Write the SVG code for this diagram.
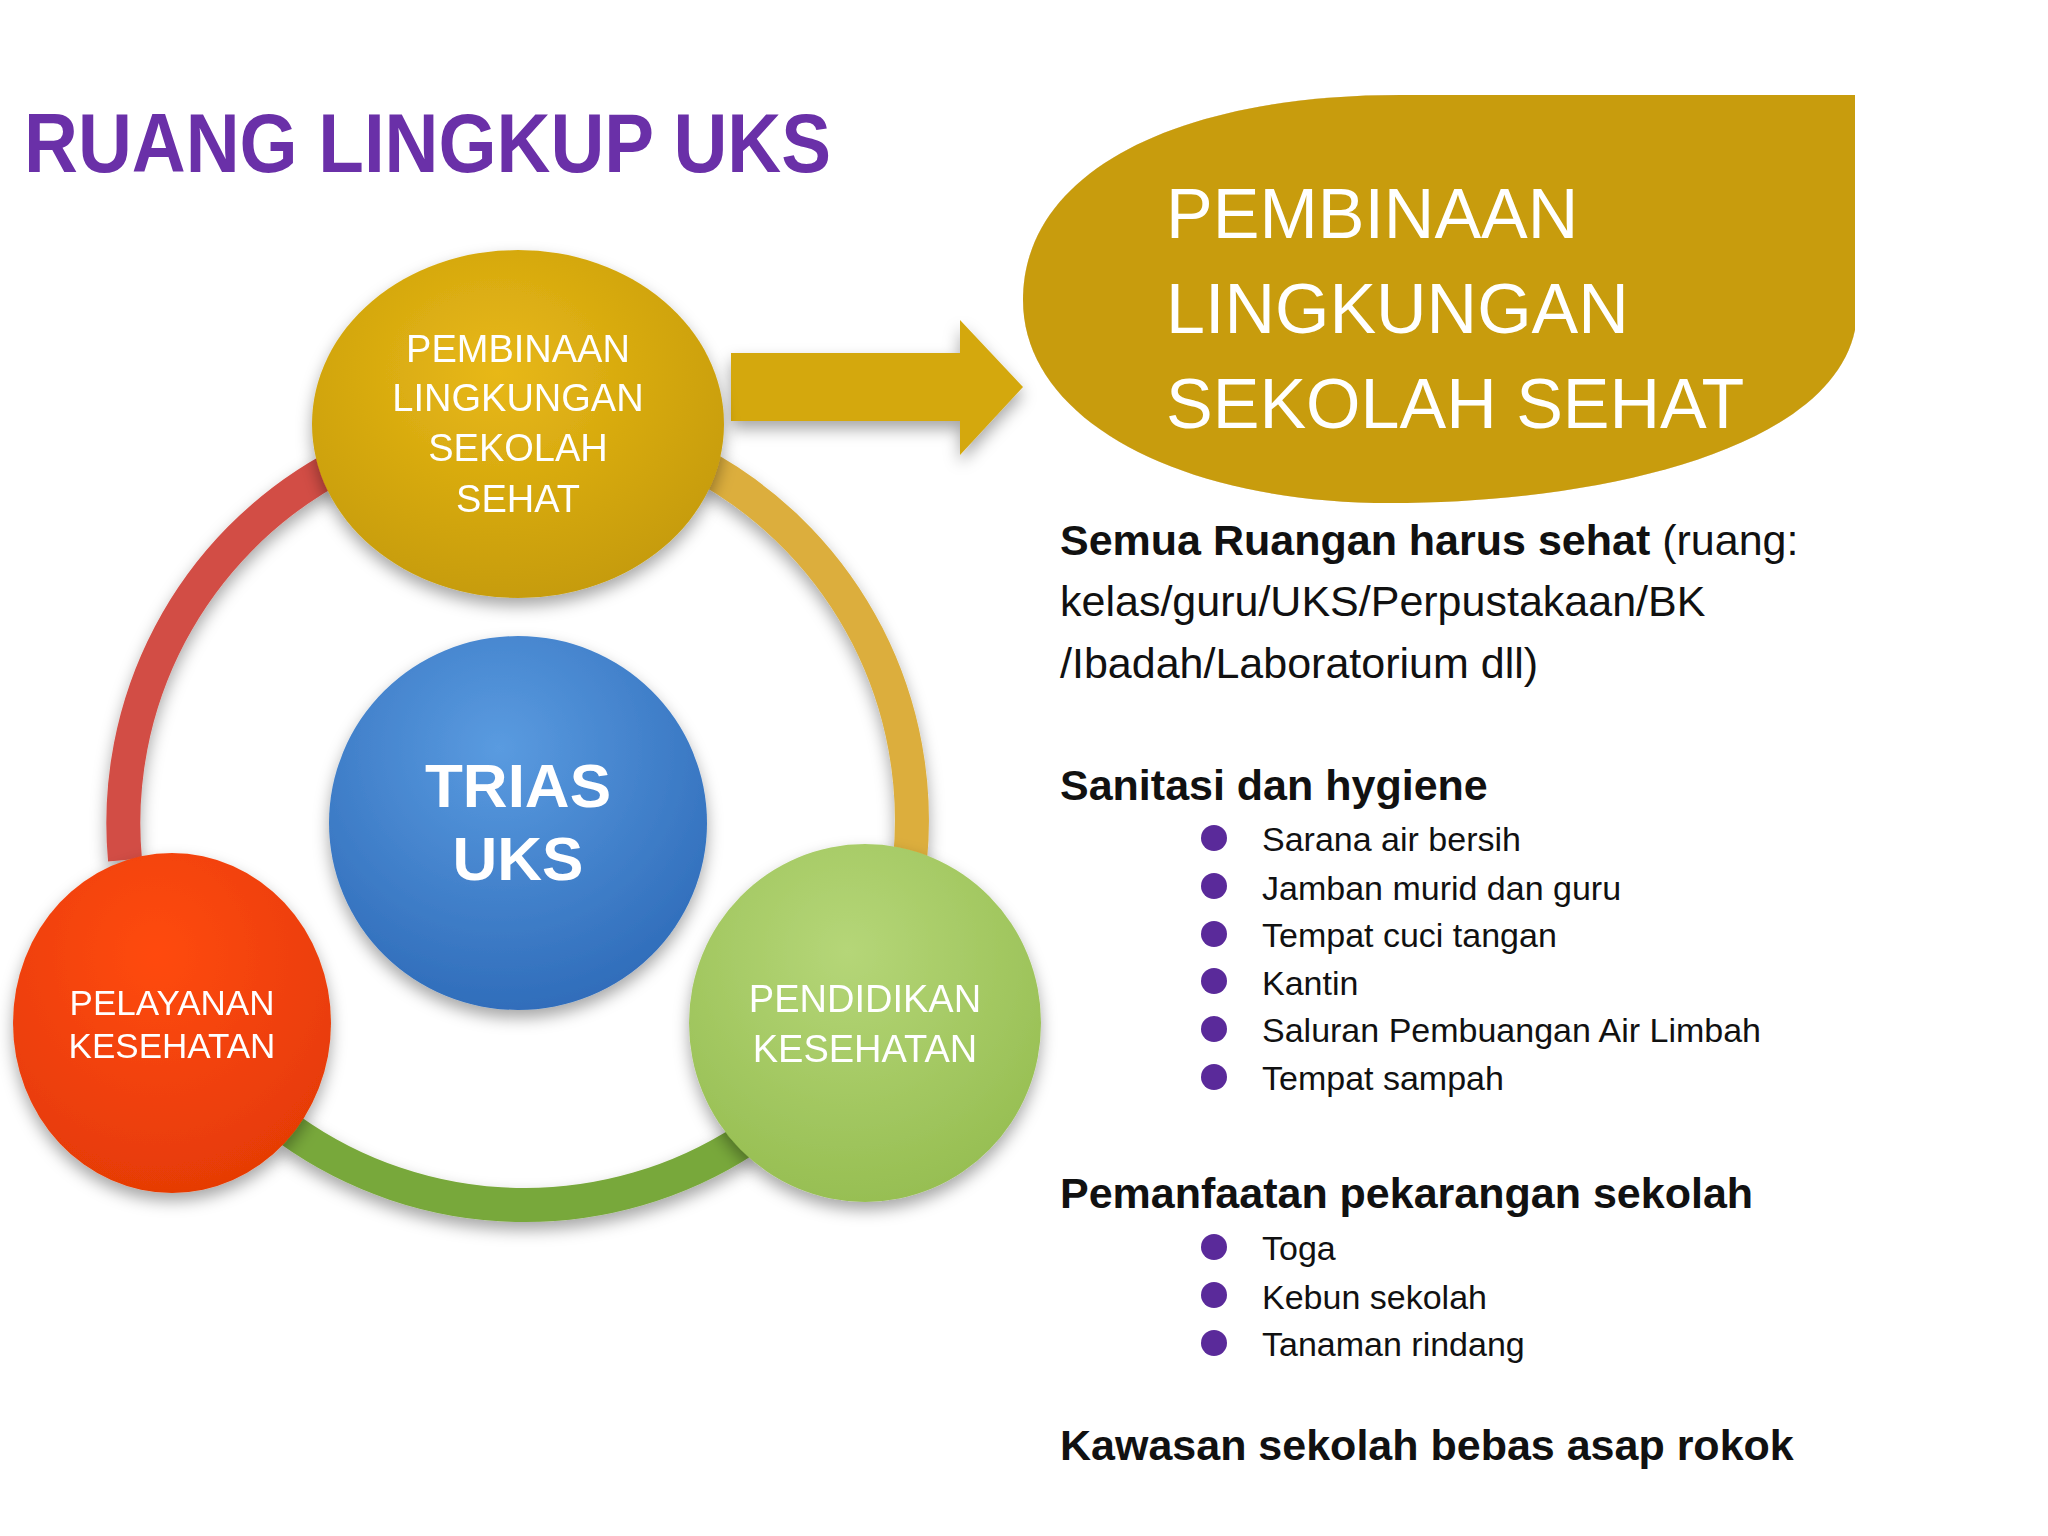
<svg xmlns="http://www.w3.org/2000/svg" width="2048" height="1536" viewBox="0 0 2048 1536">
<defs>
<radialGradient id="gGold" cx="0.45" cy="0.35" r="0.7"><stop offset="0" stop-color="#e8b818"/><stop offset="1" stop-color="#c49a06"/></radialGradient>
<radialGradient id="gBlue" cx="0.45" cy="0.3" r="0.75"><stop offset="0" stop-color="#5a9be0"/><stop offset="1" stop-color="#2d6ab8"/></radialGradient>
<radialGradient id="gRed" cx="0.45" cy="0.3" r="0.75"><stop offset="0" stop-color="#ff4a10"/><stop offset="1" stop-color="#e43a05"/></radialGradient>
<radialGradient id="gGreen" cx="0.45" cy="0.3" r="0.75"><stop offset="0" stop-color="#b5d678"/><stop offset="1" stop-color="#95bd50"/></radialGradient>
<filter id="sh" x="-20%" y="-20%" width="140%" height="150%"><feDropShadow dx="0" dy="8" stdDeviation="8" flood-color="#000" flood-opacity="0.35"/></filter>
<filter id="glow" x="-10%" y="-15%" width="120%" height="130%"><feGaussianBlur in="SourceAlpha" stdDeviation="12"/><feFlood flood-color="#e8d37a"/><feComposite operator="in" in2="SourceAlpha"/><feMerge><feMergeNode/><feMergeNode in="SourceGraphic"/></feMerge></filter>
<style>
.lbl{font-family:"Liberation Sans",Arial,sans-serif;fill:#fff;text-anchor:middle}
.t{font-family:"Liberation Sans",Arial,sans-serif;fill:#111}
.b{font-weight:bold}
</style>
</defs>
<rect width="2048" height="1536" fill="#fff"/>
<text x="24" y="172" font-family="Liberation Sans,Arial,sans-serif" font-weight="bold" font-size="84" fill="#6a30a8" textLength="807" lengthAdjust="spacingAndGlyphs">RUANG LINGKUP UKS</text>
<g id="connectors" fill="none" stroke-width="34" filter="url(#sh)">
<path d="M 330 470 A 405 405 0 0 0 125 860" stroke="#d24d44"/>
<path d="M 710 470 A 405 405 0 0 1 910 860" stroke="#dcae3c"/>
<path d="M 290 1130 A 405 405 0 0 0 745 1140" stroke="#78a83a"/>
<path d="M 731 353 L 960 353 L 960 320 L 1023 387 L 960 455 L 960 421 L 731 421 Z" fill="#d4a80c" stroke="none"/>
</g>
<g id="n_top" filter="url(#sh)"><ellipse cx="518" cy="424" rx="206" ry="174" fill="url(#gGold)"/>
<text class="lbl" font-size="38"><tspan x="518" y="362">PEMBINAAN</tspan><tspan x="518" y="411">LINGKUNGAN</tspan><tspan x="518" y="461">SEKOLAH</tspan><tspan x="518" y="512">SEHAT</tspan></text></g>
<g id="n_center" filter="url(#sh)"><ellipse cx="518" cy="823" rx="189" ry="187" fill="url(#gBlue)"/>
<text class="lbl b" font-size="62"><tspan x="518" y="807">TRIAS</tspan><tspan x="518" y="880">UKS</tspan></text></g>
<g id="n_left" filter="url(#sh)"><ellipse cx="172" cy="1023" rx="159" ry="170" fill="url(#gRed)"/>
<text class="lbl" font-size="35"><tspan x="172" y="1015">PELAYANAN</tspan><tspan x="172" y="1058">KESEHATAN</tspan></text></g>
<g id="n_right" filter="url(#sh)"><ellipse cx="865" cy="1023" rx="176" ry="179" fill="url(#gGreen)"/>
<text class="lbl" font-size="38"><tspan x="865" y="1012">PENDIDIKAN</tspan><tspan x="865" y="1062">KESEHATAN</tspan></text></g>
<g id="n_big" filter="url(#glow)">
<path d="M 1855 95 L 1855 330 C 1830 450 1600 503 1390 503 C 1180 503 1023 420 1023 300 C 1023 170 1180 95 1400 95 Z" fill="#c89c08"/>
<text font-family="Liberation Sans,Arial,sans-serif" font-size="70" fill="#fff"><tspan x="1166" y="238">PEMBINAAN</tspan><tspan x="1166" y="333">LINGKUNGAN</tspan><tspan x="1166" y="428">SEKOLAH SEHAT</tspan></text></g>
<g id="text">
<text class="t" font-size="43"><tspan x="1060" y="555"><tspan class="b">Semua Ruangan harus sehat</tspan> (ruang:</tspan><tspan x="1060" y="616">kelas/guru/UKS/Perpustakaan/BK</tspan><tspan x="1060" y="678">/Ibadah/Laboratorium dll)</tspan></text>
<text class="t b" font-size="43" x="1060" y="800">Sanitasi dan hygiene</text>
<text class="t" font-size="34"><tspan x="1262" y="851">Sarana air bersih</tspan><tspan x="1262" y="900">Jamban murid dan guru</tspan><tspan x="1262" y="947">Tempat cuci tangan</tspan><tspan x="1262" y="995">Kantin</tspan><tspan x="1262" y="1042">Saluran Pembuangan Air Limbah</tspan><tspan x="1262" y="1090">Tempat sampah</tspan></text>
<text class="t b" font-size="43" x="1060" y="1208">Pemanfaatan pekarangan sekolah</text>
<text class="t" font-size="34"><tspan x="1262" y="1260">Toga</tspan><tspan x="1262" y="1309">Kebun sekolah</tspan><tspan x="1262" y="1356">Tanaman rindang</tspan></text>
<text class="t b" font-size="43" x="1060" y="1460">Kawasan sekolah bebas asap rokok</text>
<g fill="#5a2a9a">
<circle cx="1214" cy="838" r="13"/><circle cx="1214" cy="886" r="13"/><circle cx="1214" cy="934" r="13"/><circle cx="1214" cy="981" r="13"/><circle cx="1214" cy="1029" r="13"/><circle cx="1214" cy="1077" r="13"/>
<circle cx="1214" cy="1247" r="13"/><circle cx="1214" cy="1295" r="13"/><circle cx="1214" cy="1343" r="13"/>
</g>
</g>
</svg>
